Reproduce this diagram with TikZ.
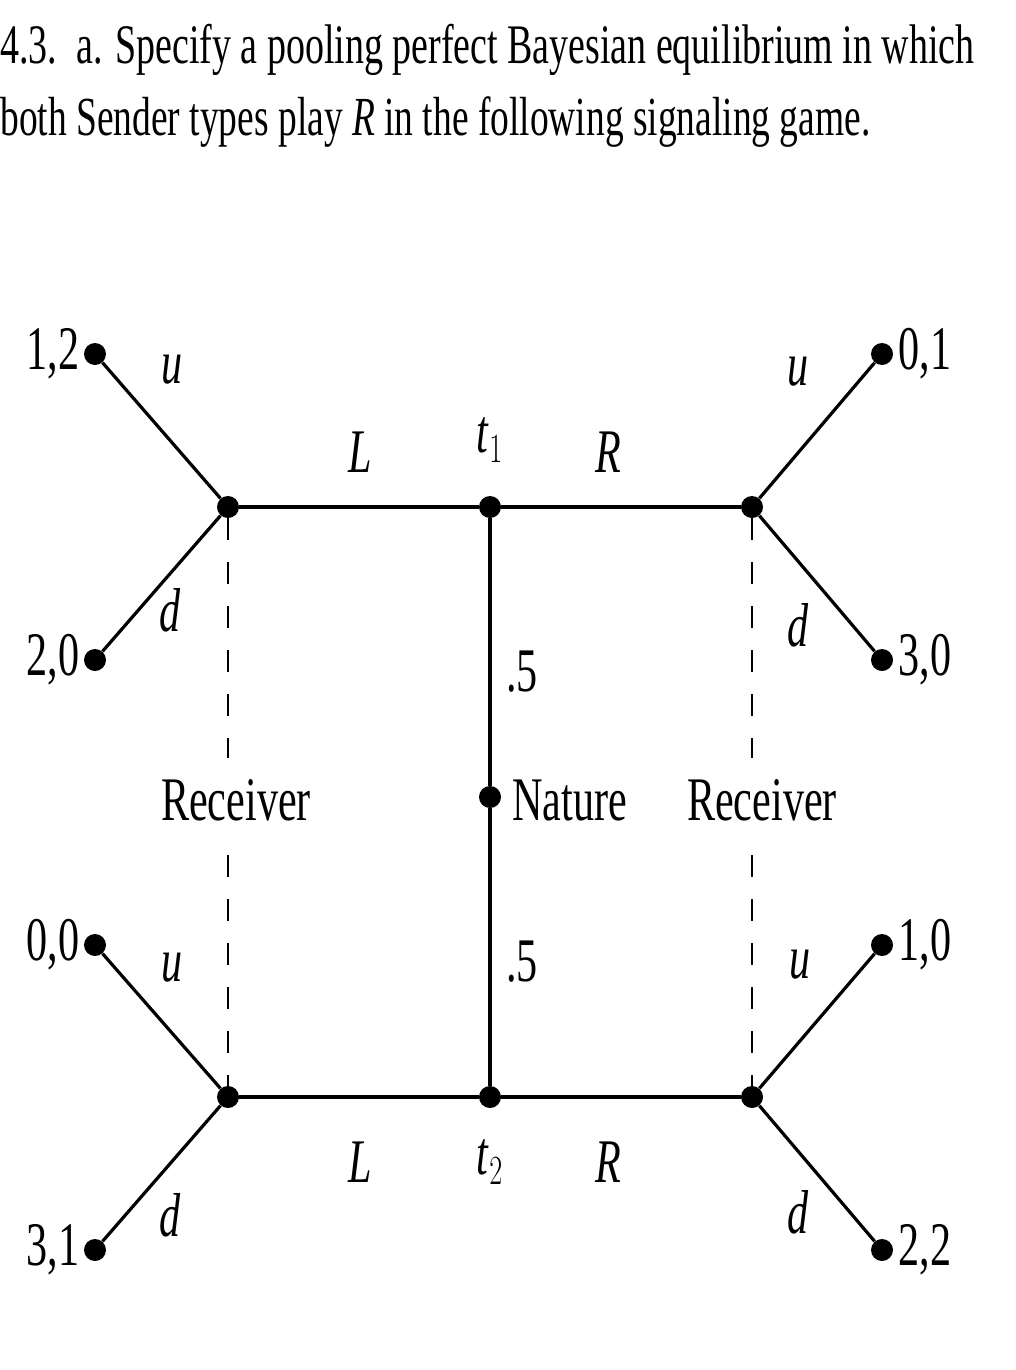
\documentclass[tikz,border=0pt]{standalone}
\usepackage{fontspec}
\setmainfont{Liberation Serif}
\usepackage{graphicx}
\newcommand\sq[1]{\scalebox{0.68}[1]{#1}}
\begin{document}
\begin{tikzpicture}[x=0.5pt,y=-0.5pt,
  dot/.style={circle,fill=black,inner sep=0pt,minimum size=11pt},
  lbl/.style={font=\fontsize{31}{33}\selectfont,inner sep=0pt},
  edge/.style={line width=1.6pt},
  info/.style={line width=1.2pt,dash pattern=on 11pt off 11pt}]
\useasboundingbox (0,0) rectangle (1016,1370);
\node[anchor=west,inner sep=0pt] (l1) at (0,50) {\resizebox{487pt}{!}{\fontsize{28}{30}\selectfont\sq{4.3.\ \ a. Specify a pooling perfect Bayesian equilibrium in which}}};
\node[anchor=west,inner sep=0pt] (l2) at (0,122) {\resizebox{435pt}{!}{\fontsize{28}{30}\selectfont\sq{both Sender types play \textit{R} in the following signaling game.}}};
% nodes
\node[dot] (t1) at (490,507) {};
\node[dot] (t2) at (490,1097) {};
\node[dot] (N) at (490,797) {};
\node[dot] (LT) at (228,507) {};
\node[dot] (LB) at (228,1097) {};
\node[dot] (RT) at (752,507) {};
\node[dot] (RB) at (752,1097) {};
\node[dot] (a) at (95,354) {};
\node[dot] (b) at (95,660) {};
\node[dot] (c) at (95,945) {};
\node[dot] (e) at (95,1250) {};
\node[dot] (f) at (882,354) {};
\node[dot] (g) at (882,660) {};
\node[dot] (h) at (882,945) {};
\node[dot] (k) at (882,1250) {};
\coordinate (lg1) at (228,758);
\coordinate (lg2) at (228,855);
\coordinate (rg1) at (752,758);
\coordinate (rg2) at (752,855);
% edges
\draw[edge] (LT) -- (t1) -- (RT);
\draw[edge] (LB) -- (t2) -- (RB);
\draw[edge] (t1) -- (N) -- (t2);
\draw[edge] (a) -- (LT) -- (b);
\draw[edge] (c) -- (LB) -- (e);
\draw[edge] (f) -- (RT) -- (g);
\draw[edge] (h) -- (RB) -- (k);
% labels
\node[lbl] (recL) at (236,800) {\sq{Receiver}};
\node[lbl] (recR) at (762,800) {\sq{Receiver}};
\node[lbl,anchor=west] (nat) at (512,800) {\sq{Nature}};
\draw[info] (LT) -- (lg1);
\draw[info] (lg2) -- (LB);
\draw[info] (RT) -- (rg1);
\draw[info] (rg2) -- (RB);
\node[lbl,anchor=east] at (80,354) {\sq{1,2}};
\node[lbl,anchor=east] at (80,660) {\sq{2,0}};
\node[lbl,anchor=east] at (80,945) {\sq{0,0}};
\node[lbl,anchor=east] at (80,1250) {\sq{3,1}};
\node[lbl,anchor=west] at (898,354) {\sq{0,1}};
\node[lbl,anchor=west] at (898,660) {\sq{3,0}};
\node[lbl,anchor=west] at (898,945) {\sq{1,0}};
\node[lbl,anchor=west] at (898,1250) {\sq{2,2}};
\node[lbl] at (172,370) {\sq{\textit{u}}};
\node[lbl] at (170,610) {\sq{\textit{d}}};
\node[lbl] at (172,968) {\sq{\textit{u}}};
\node[lbl] at (170,1215) {\sq{\textit{d}}};
\node[lbl] at (798,372) {\sq{\textit{u}}};
\node[lbl] at (798,625) {\sq{\textit{d}}};
\node[lbl] at (800,965) {\sq{\textit{u}}};
\node[lbl] at (798,1212) {\sq{\textit{d}}};
\node[lbl] at (360,452) {\sq{\textit{L}}};
\node[lbl] at (608,452) {\sq{\textit{R}}};
\node[lbl] at (490,440) {\sq{\textit{t}$_1$}};
\node[lbl] at (360,1162) {\sq{\textit{L}}};
\node[lbl] at (608,1162) {\sq{\textit{R}}};
\node[lbl] at (490,1162) {\sq{\textit{t}$_2$}};
\node[lbl] at (522,672) {\sq{.5}};
\node[lbl] at (522,962) {\sq{.5}};
\end{tikzpicture}
\end{document}
